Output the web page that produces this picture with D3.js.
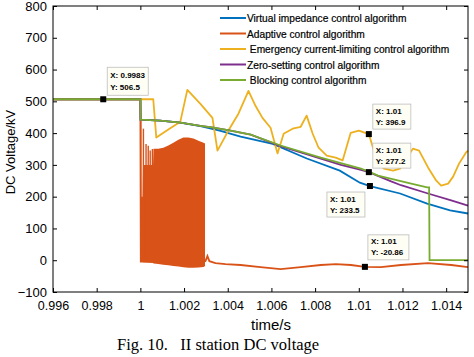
<!DOCTYPE html>
<html><head><meta charset="utf-8">
<script src="https://cdn.jsdelivr.net/npm/d3@7"></script>
<style>body{margin:0;background:#fff}</style>
</head><body>
<svg id="c" width="474" height="357"></svg>
<script>
// ---------- data ----------
const xTicks = [0.996, 0.998, 1, 1.002, 1.004, 1.006, 1.008, 1.01, 1.012, 1.014];
const xTickLabels = ["0.996", "0.998", "1", "1.002", "1.004", "1.006", "1.008", "1.01", "1.012", "1.014"];
const yTicks = [-100, 0, 100, 200, 300, 400, 500, 600, 700, 800];
const seriesNames = ["Virtual impedance control algorithm", "Adaptive control algorithm",
  " Emergency current-limiting control algorithm", "Zero-setting control algorithm",
  " Blocking control algorithm"];

const virtualImpedance = [[0.996,506.5],[1.0,506.5],[1.00001,442],[1.00091,439],[1.00183,433],
  [1.00275,422],[1.00367,407],[1.00459,389],[1.00606,366],[1.00762,320],[1.00913,282],
  [1.01005,244],[1.01051,233.5],[1.01189,210],[1.01313,178],[1.01418,157],[1.015,147]];
const adaptiveLine = [[0.996,506.5],[1.0,506.5],[1.00002,-4],
  [1.00298,-3],[1.00307,13],[1.00316,-3],[1.00344,-9],[1.0039,-12],[1.00459,-15],[1.0055,-22],
  [1.00642,-28],[1.00734,-22],[1.00826,-15],[1.00895,-12],[1.00964,-15],[1.01028,-20.86],
  [1.01101,-22],[1.01193,-15],[1.01317,-9],[1.01423,-15],[1.015,-22]];
// oscillation envelope of the adaptive algorithm: [time, upper, lower]
const adaptiveBand = [[1.00000,200,-4],[1.00010,200,-5],[1.00012,300,-6],[1.00058,300,-9],
  [1.00060,351,-10],[1.00082,351,-12],[1.00105,354,-14],[1.00128,361,-16],[1.00151,370,-18],
  [1.00174,379,-20],[1.00197,386,-22],[1.0022,386,-24],[1.00243,383,-24],[1.00266,376,-23],
  [1.00289,370,-21],[1.00296,367,-18]];
const adaptiveSpikes = [[1.00002,442],[1.00014,414],[1.00026,366],[1.00036,360],[1.00045,345],[1.00055,350]];
const emergency = [[0.996,506.5],[1.00059,506.5],[1.00073,386],[1.00128,411],[1.00183,436],
  [1.00215,536],[1.00275,492],[1.0033,448],[1.00353,345],[1.00403,408],[1.00449,461],
  [1.00495,533],[1.00527,486],[1.00559,448],[1.00596,417],[1.00628,336],[1.00656,398],
  [1.00697,414],[1.00734,420],[1.00761,455],[1.00789,398],[1.00816,354],[1.00853,329],
  [1.00894,323],[1.00926,314],[1.00963,401],[1.0100,408],[1.01046,396.9],[1.01083,313],
  [1.01115,288],[1.01157,282],[1.01189,288],[1.0122,323],[1.01248,351],[1.01276,345],
  [1.01317,292],[1.01354,251],[1.01377,235],[1.01409,241],[1.01432,263],[1.01459,304],
  [1.01491,339],[1.015,345]];
const zeroSetting = [[0.996,506.5],[1.0,506.5],[1.00001,442],[1.00091,439],[1.00183,433],
  [1.00275,423],[1.00335,417],[1.00413,408],[1.00505,395],[1.00642,359],[1.00734,339],
  [1.00826,320],[1.00918,300],[1.0101,284],[1.01046,277.2],[1.01148,248],[1.01193,236],
  [1.01317,210],[1.01423,188],[1.015,172]];
const blocking = [[0.996,506.5],[1.0,506.5],[1.00001,442],[1.00091,439],[1.00183,433],
  [1.00275,423],[1.00335,417],[1.00413,408],[1.00505,395],[1.00642,361],[1.00826,323],
  [1.0101,288],[1.01046,279],[1.01088,266],[1.0124,241],[1.01313,229],[1.01322,229],
  [1.01324,0],[1.015,0]];
const dataTips = [
  {t:0.9983, v:506.5, xl:"0.9983", yl:"506.5"},
  {t:1.01046, v:396.9, xl:"1.01", yl:"396.9"},
  {t:1.01046, v:277.2, xl:"1.01", yl:"277.2"},
  {t:1.01051, v:233.5, xl:"1.01", yl:"233.5"},
  {t:1.01028, v:-20.86, xl:"1.01", yl:"-20.86"}
];
// ---------- styles ----------
const colors = ["#0072BD", "#D95319", "#EDB120", "#7E2F8E", "#77AC30"];
const tipBoxes = [[4,-32,41,28],[4,-30,38,25],[4,-29,38,25],[-43,6,38,25],[3,-32,41,25]];

const svg = d3.select("#c");
const L = 53, R = 468, T = 6, B = 292;
const x = d3.scaleLinear().domain([0.996, 1.015]).range([L, R]);
const y = d3.scaleLinear().domain([-100, 800]).range([B, T]);
const font = "'Liberation Sans', Arial, sans-serif";

const line = d3.line().x(d => x(d[0])).y(d => y(d[1]));
const lw = 1.8;

svg.append("path").datum(virtualImpedance).attr("d", line).attr("fill","none")
  .attr("stroke", colors[0]).attr("stroke-width", lw);
svg.append("path").datum(adaptiveBand)
  .attr("d", d3.area().x(d => x(d[0])).y0(d => y(d[2])).y1(d => y(d[1])))
  .attr("fill", colors[1]);
svg.selectAll(".spk").data(adaptiveSpikes).join("line")
  .attr("x1", d => x(d[0])).attr("x2", d => x(d[0]))
  .attr("y1", y(-5)).attr("y2", d => y(d[1]))
  .attr("stroke", colors[1]).attr("stroke-width", 1.4);
svg.append("path").datum(adaptiveLine).attr("d", line).attr("fill","none")
  .attr("stroke", colors[1]).attr("stroke-width", lw);
svg.append("path").datum(emergency).attr("d", line).attr("fill","none")
  .attr("stroke", colors[2]).attr("stroke-width", lw).attr("stroke-linejoin","round");
svg.append("path").datum(zeroSetting).attr("d", line).attr("fill","none")
  .attr("stroke", colors[3]).attr("stroke-width", lw);
svg.append("path").datum(blocking).attr("d", line).attr("fill","none")
  .attr("stroke", colors[4]).attr("stroke-width", lw);

const gx = svg.append("g").attr("transform", `translate(0,${B})`)
  .call(d3.axisBottom(x).tickValues(xTicks).tickFormat((d,i) => xTickLabels[i])
    .tickSizeInner(-4).tickSizeOuter(0).tickPadding(9));
const gxt = svg.append("g").attr("transform", `translate(0,${T})`)
  .call(d3.axisTop(x).tickValues(xTicks).tickFormat("").tickSizeInner(-4).tickSizeOuter(0));
const gy = svg.append("g").attr("transform", `translate(${L},0)`)
  .call(d3.axisLeft(y).tickValues(yTicks).tickFormat(d3.format("d"))
    .tickSizeInner(-4).tickSizeOuter(0).tickPadding(6));
const gyr = svg.append("g").attr("transform", `translate(${R},0)`)
  .call(d3.axisRight(y).tickValues(yTicks).tickFormat("").tickSizeInner(-4).tickSizeOuter(0));
[gx, gxt, gy, gyr].forEach(g => {
  g.select(".domain").remove();
  g.selectAll("line").attr("stroke", "#000").attr("stroke-width", 1);
  g.selectAll("text").attr("font-family", font).attr("fill", "#000");
});
gx.selectAll("text").attr("font-size", "12.5px");
gy.selectAll("text").attr("font-size", "13px");
svg.append("rect").attr("x", L).attr("y", T).attr("width", R - L).attr("height", B - T)
  .attr("fill", "none").attr("stroke", "#000").attr("stroke-width", 1);

const lg = svg.append("g");
seriesNames.forEach((n, i) => {
  const yy = 18 + i * 15.5;
  lg.append("line").attr("x1", 220).attr("x2", 246).attr("y1", yy).attr("y2", yy)
    .attr("stroke", colors[i]).attr("stroke-width", 2);
  lg.append("text").attr("x", 247).attr("y", yy + 4).text(n)
    .attr("font-family", font).attr("font-size", "10.2px").attr("fill", "#000")
    .attr("stroke", "#000").attr("stroke-width", 0.2)
    .style("white-space", "pre");
});

dataTips.forEach((d, i) => {
  const px = x(d.t), py = y(d.v);
  const [dx, dy, w, h] = tipBoxes[i];
  const g = svg.append("g");
  g.append("rect").attr("x", px + dx).attr("y", py + dy).attr("width", w).attr("height", h)
    .attr("fill", "#fefef4").attr("stroke", "#bdbdbd").attr("stroke-width", 0.8);
  g.append("text").attr("x", px + dx + 3).attr("y", py + dy + h * 0.38).text("X: " + d.xl)
    .attr("font-family", font).attr("font-size", "8px").attr("font-weight", "bold");
  g.append("text").attr("x", px + dx + 3).attr("y", py + dy + h * 0.82).text("Y: " + d.yl)
    .attr("font-family", font).attr("font-size", "8px").attr("font-weight", "bold");
  g.append("rect").attr("x", px - 3).attr("y", py - 3).attr("width", 6).attr("height", 6).attr("fill", "#000");
});

svg.append("text").attr("transform", "translate(15,152) rotate(-90)").attr("text-anchor", "middle")
  .attr("font-family", font).attr("font-size", "13px").text("DC Voltage/kV");
svg.append("text").attr("x", 271).attr("y", 330).attr("text-anchor", "middle")
  .attr("font-family", font).attr("font-size", "15px").text("time/s");
svg.append("text").attr("x", 117).attr("y", 350).style("white-space", "pre")
  .attr("font-family", "'Liberation Serif', 'Times New Roman', serif").attr("font-size", "16.5px")
  .text("Fig. 10.   II station DC voltage");
</script>
</body></html>
